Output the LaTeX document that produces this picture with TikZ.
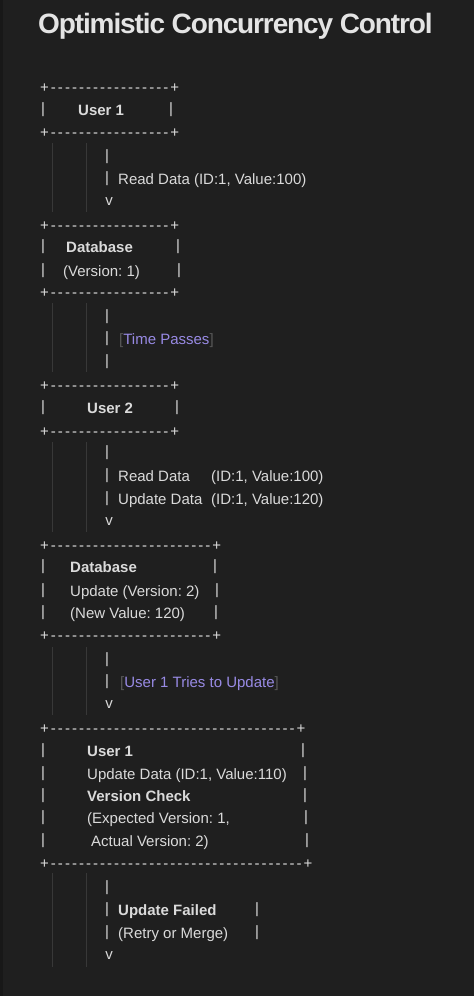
\documentclass[tikz,border=0pt]{standalone}
\usepackage{fontspec}
\setmainfont{Liberation Sans}
\newfontfamily\rulefont[LetterSpace=13.5]{Liberation Sans}
\newfontfamily\titlefont[LetterSpace=-4]{Liberation Sans}
\definecolor{bgcol}{RGB}{31,31,31}
\definecolor{edgecol}{RGB}{24,24,24}
\definecolor{fgcol}{RGB}{218,218,218}
\definecolor{titlecol}{RGB}{228,228,228}
\definecolor{guidecol}{RGB}{56,56,56}
\definecolor{notecol}{RGB}{152,138,228}
\definecolor{brkcol}{RGB}{88,88,88}
\frenchspacing

\begin{document}
\begin{tikzpicture}[x=1pt, y=-1pt]
\tikzset{
  ascii/.style={
    inner sep=0pt,
    text=fgcol,
    font=\fontsize{15}{18}\selectfont
  },
  txt/.style={
    ascii,
    anchor=west,
    text height=10.7pt,
    text depth=0pt
  },
  boldtxt/.style={
    txt,
    font=\fontsize{15}{18}\selectfont\bfseries
  },
  note/.style={
    txt,
    text=notecol
  },
  dashline/.style={
    ascii,
    anchor=west,
    font=\fontsize{15}{18}\rulefont
  },
  vbar/.style={
    ascii,
    anchor=center
  },
  arrowv/.style={
    ascii,
    anchor=center
  },
  guide/.style={
    draw=guidecol,
    line width=1pt
  }
}

\newcommand{\indentguides}[2]{
  \draw[guide] (52,#1) -- (52,#2);
  \draw[guide] (86,#1) -- (86,#2);
}

% Background
\fill[bgcol] (0,0) rectangle (474,996);
\fill[edgecol] (0,0) rectangle (3,996);

\node (title) [anchor=base west, inner sep=0pt, text=titlecol,
  font=\fontsize{28}{30}\titlefont\bfseries] at (38,33) {Optimistic Concurrency Control};

% User 1
\node (u1top) [dashline] at (40,88) {+-----------------+};
\node (u1l) [vbar] at (43,110) {|};
\node (u1) [boldtxt] at (78,110) {User 1};
\node (u1r) [vbar] at (171,110) {|};
\node (u1bot) [dashline] at (40,133) {+-----------------+};

% Read
\indentguides{143}{212}
\node (a1bar0) [vbar] at (107,157) {|};
\node (a1bar1) [vbar] at (107,179) {|};
\node (a1txt) [txt] at (118,179) {Read Data (ID:1, Value:100)};
\node (a1v) [arrowv] at (109,202) {v};

% Database, version 1
\node (d1top) [dashline] at (40,226) {+-----------------+};
\node (d1l0) [vbar] at (43,247) {|};
\node (d1) [boldtxt] at (66,247) {Database};
\node (d1r0) [vbar] at (178,247) {|};
\node (d1l1) [vbar] at (43,271) {|};
\node (d1ver) [txt] at (63,271) {(Version: 1)};
\node (d1r1) [vbar] at (179,271) {|};
\node (d1bot) [dashline] at (40,293) {+-----------------+};

% Time passes
\indentguides{303}{372}
\node (a2bar0) [vbar] at (107,317) {|};
\node (a2bar1) [vbar] at (107,339) {|};
\node (a2txt) [note] at (119,339) {\textcolor{brkcol}{[}Time Passes\textcolor{brkcol}{]}};
\node (a2bar2) [vbar] at (107,362) {|};

% User 2
\node (u2top) [dashline] at (40,386) {+-----------------+};
\node (u2l) [vbar] at (43,408) {|};
\node (u2) [boldtxt] at (87,408) {User 2};
\node (u2r) [vbar] at (177,408) {|};
\node (u2bot) [dashline] at (40,432) {+-----------------+};

% Read and update
\indentguides{442}{532}
\node (a3bar0) [vbar] at (107,453) {|};
\node (a3bar1) [vbar] at (107,476) {|};
\node (a3read) [txt] at (118,476) {\makebox[93pt][l]{Read Data}(ID:1, Value:100)};
\node (a3bar2) [vbar] at (107,499) {|};
\node (a3upd) [txt] at (118,499) {\makebox[93pt][l]{Update Data}(ID:1, Value:120)};
\node (a3v) [arrowv] at (109,522) {v};

% Database, version 2
\node (d2top) [dashline] at (40,546) {+-----------------------+};
\node (d2l0) [vbar] at (43,567) {|};
\node (d2) [boldtxt] at (70,567) {Database};
\node (d2r0) [vbar] at (215,567) {|};
\node (d2l1) [vbar] at (43,591) {|};
\node (d2ver) [txt] at (70,591) {Update (Version: 2)};
\node (d2r1) [vbar] at (217,591) {|};
\node (d2l2) [vbar] at (43,613) {|};
\node (d2val) [txt] at (70,613) {(New Value: 120)};
\node (d2r2) [vbar] at (216,613) {|};
\node (d2bot) [dashline] at (40,636) {+-----------------------+};

% User 1 tries to update
\indentguides{647}{715}
\node (a4bar0) [vbar] at (107,660) {|};
\node (a4bar1) [vbar] at (107,682) {|};
\node (a4txt) [note] at (120,682) {\textcolor{brkcol}{[}User 1 Tries to Update\textcolor{brkcol}{]}};
\node (a4v) [arrowv] at (109,705) {v};

% Version check
\node (ctop) [dashline] at (40,729) {+-----------------------------------+};
\node (cl0) [vbar] at (43,751) {|};
\node (cuser) [boldtxt] at (87,751) {User 1};
\node (cr0) [vbar] at (303,751) {|};
\node (cl1) [vbar] at (43,774) {|};
\node (cupd) [txt] at (87,774) {Update Data (ID:1, Value:110)};
\node (cr1) [vbar] at (305,774) {|};
\node (cl2) [vbar] at (43,796) {|};
\node (ccheck) [boldtxt] at (87,796) {Version Check};
\node (cr2) [vbar] at (305,796) {|};
\node (cl3) [vbar] at (43,818) {|};
\node (cexp) [txt] at (87,818) {(Expected Version: 1,};
\node (cr3) [vbar] at (306,818) {|};
\node (cl4) [vbar] at (43,841) {|};
\node (cact) [txt] at (91,841) {Actual Version: 2)};
\node (cr4) [vbar] at (307,841) {|};
\node (cbot) [dashline] at (40,864) {+------------------------------------+};

% Update failed
\indentguides{873}{967}
\node (a5bar0) [vbar] at (107,888) {|};
\node (a5bar1) [vbar] at (107,910) {|};
\node (fail) [boldtxt] at (118,910) {Update Failed};
\node (failr0) [vbar] at (257,910) {|};
\node (a5bar2) [vbar] at (107,933) {|};
\node (retry) [txt] at (118,933) {(Retry or Merge)};
\node (failr1) [vbar] at (257,933) {|};
\node (a5v) [arrowv] at (109,956) {v};

\end{tikzpicture}
\end{document}
